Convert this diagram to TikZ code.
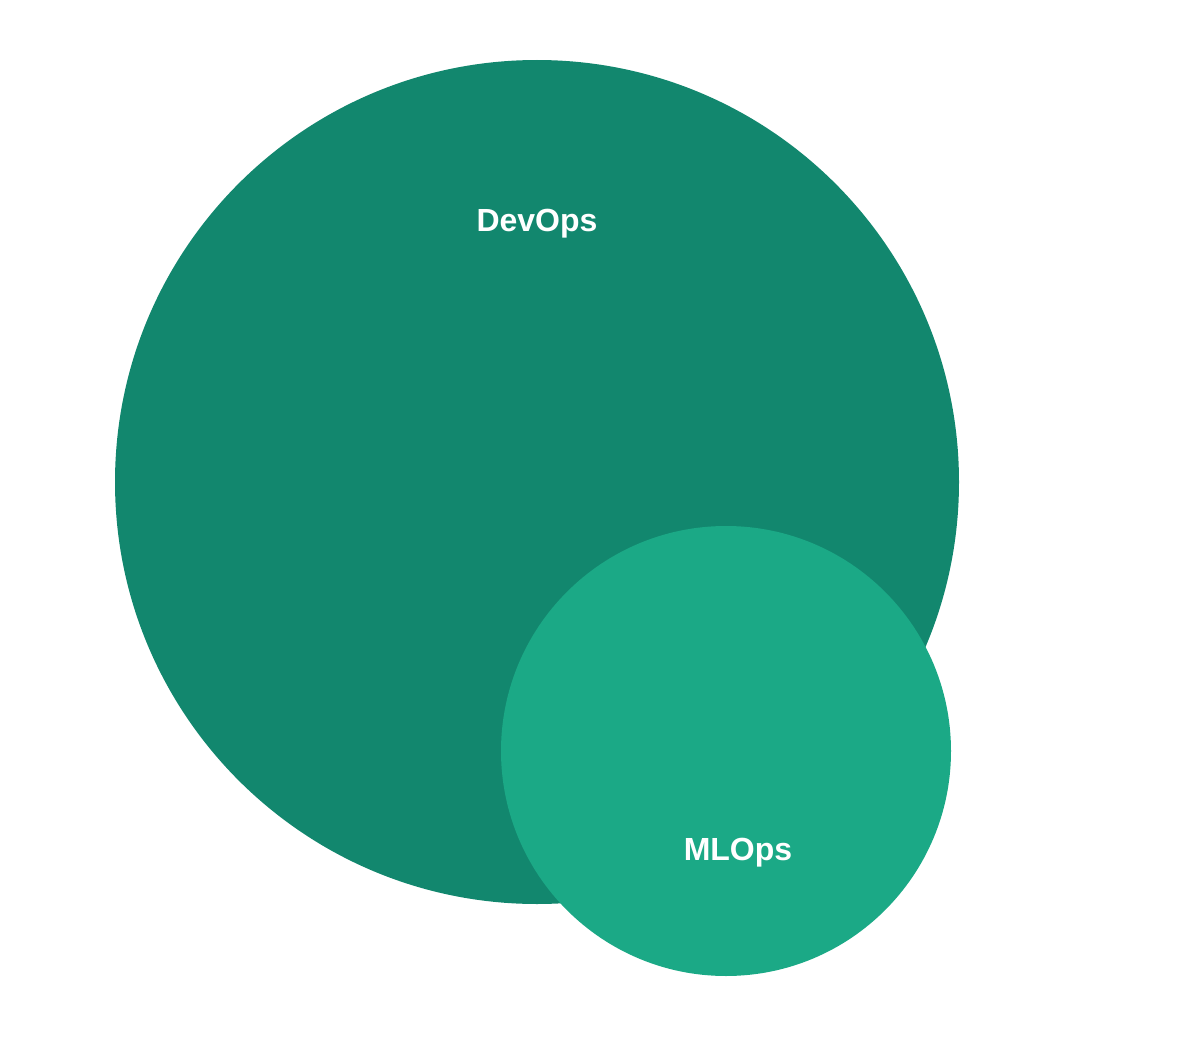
\documentclass[tikz,border=0pt]{standalone}
\usepackage{fontspec}
\setmainfont{Liberation Sans}
\definecolor{devgreen}{RGB}{18,135,110}
\definecolor{mlgreen}{RGB}{27,169,134}
\tikzset{
  setlabel/.style={text=white, font=\fontsize{32}{38}\selectfont\bfseries, inner sep=0pt}
}
\begin{document}
\begin{tikzpicture}[x=1pt,y=-1pt]
\useasboundingbox (0,0) rectangle (1200,1062);
%DEVOPS
  \fill[devgreen] (537,482) circle (422);
  \node[setlabel] (devops) at (537,224) {DevOps};
%MLOPS
  \fill[mlgreen] (726,751) circle (225);
  \node[setlabel] (mlops) at (738,853) {MLOps};
\end{tikzpicture}
\end{document}
